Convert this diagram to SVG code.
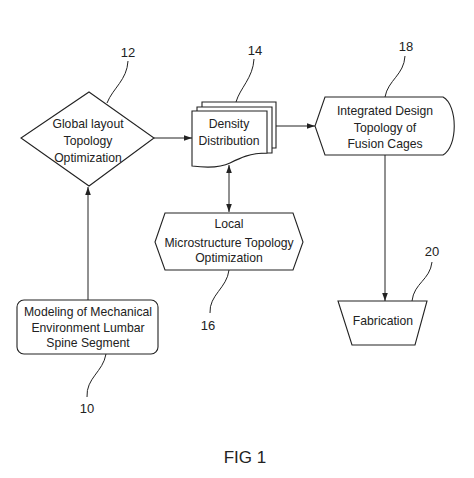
<svg xmlns="http://www.w3.org/2000/svg" width="474" height="478" viewBox="0 0 474 478">
<defs>
<marker id="ah" viewBox="0 0 10 10" refX="10" refY="5" markerWidth="8" markerHeight="8" markerUnits="userSpaceOnUse" orient="auto-start-reverse">
<path d="M0,1.5 L10,5 L0,8.5 Z" fill="#222"/>
</marker>
<style>
.s{fill:#fff;stroke:#222;stroke-width:1.1}
.l{fill:none;stroke:#222;stroke-width:1}
.c{fill:none;stroke:#222;stroke-width:1;marker-end:url(#ah)}
text{font-family:"Liberation Sans",Arial,sans-serif;fill:#222;text-anchor:middle}
.t{font-size:12.2px}
.n{font-size:13px}
</style>
</defs>
<rect width="474" height="478" fill="#fff"/>
<g id="connectors">
<path class="c" d="M88,300 L88,187"/>
<path class="c" d="M154,138 L192,138"/>
<path class="c" d="M276,126 L315,126"/>
<path class="c" d="M229,165 L229,212" style="marker-start:url(#ah)"/>
<path class="c" d="M385,155 L385,301"/>
</g>
<g id="node10">
<rect class="s" x="17" y="300" width="141" height="54" rx="7"/>
<text class="t" x="88" y="316">Modeling of Mechanical</text>
<text class="t" x="88" y="332">Environment Lumbar</text>
<text class="t" x="88" y="347">Spine Segment</text>
<path class="l" d="M106,354 C103,372 86,378 87,397"/>
<text class="n" x="87" y="413">10</text>
</g>
<g id="node12">
<path class="s" d="M89,92 L154,138 L89,186 L21,138 Z"/>
<text class="t" x="88" y="128">Global layout</text>
<text class="t" x="88" y="145">Topology</text>
<text class="t" x="88" y="162">Optimization</text>
<path class="l" d="M107,103 C113,88 127,80 128,61"/>
<text class="n" x="128" y="57">12</text>
</g>
<g id="node14">
<path class="s" d="M202,102 L276,102 L276,148 L202,148 Z"/>
<path class="s" d="M197,107 L272,107 L272,153 L197,153 Z"/>
<path class="s" d="M192,111 L267,111 L267,153 C250,153 240,158 230,163 C220,168 208,168 192,166 Z"/>
<text class="t" x="229" y="128">Density</text>
<text class="t" x="229" y="145">Distribution</text>
<path class="l" d="M236,102 C240,88 253,78 254,59"/>
<text class="n" x="255" y="55">14</text>
</g>
<g id="node16">
<path class="s" d="M165,213 L293,213 L303,242 L293,270 L165,270 L155,242 Z"/>
<text class="t" x="229" y="228">Local</text>
<text class="t" x="229" y="247">Microstructure Topology</text>
<text class="t" x="229" y="262">Optimization</text>
<path class="l" d="M229,270 C227,288 209,295 210,313"/>
<text class="n" x="208" y="330">16</text>
</g>
<g id="node18">
<path class="s" d="M325,97 L443,97 C458,105 458,147 443,155 L325,155 L315,126 Z"/>
<text class="t" x="385" y="115">Integrated Design</text>
<text class="t" x="385" y="132">Topology of</text>
<text class="t" x="385" y="148">Fusion Cages</text>
<path class="l" d="M385,97 C388,80 404,75 405,56"/>
<text class="n" x="406" y="51">18</text>
</g>
<g id="node20">
<path class="s" d="M338,301 L427,301 L415,345 L352,345 Z"/>
<text class="t" x="383" y="325">Fabrication</text>
<path class="l" d="M412,301 C414,283 430,280 432,262"/>
<text class="n" x="432" y="256">20</text>
</g>
<text x="245" y="463" style="font-size:17px">FIG 1</text>
</svg>
